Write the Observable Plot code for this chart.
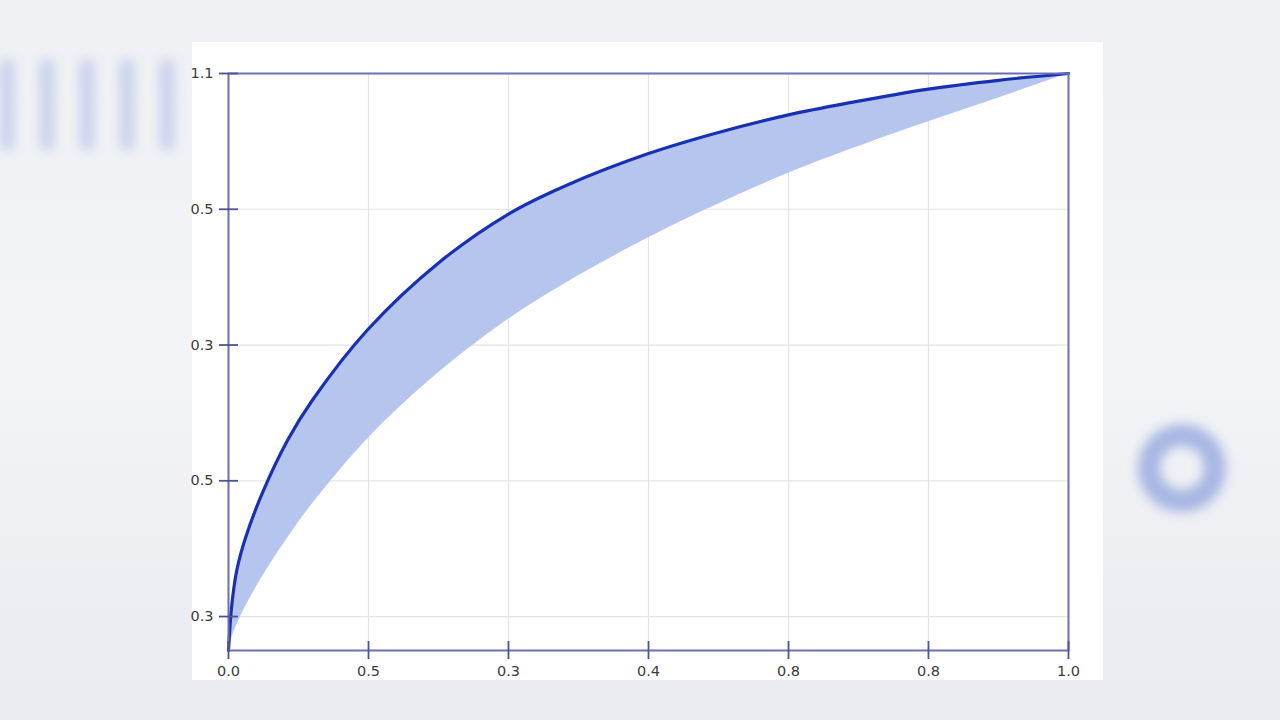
<!DOCTYPE html>
<html>
<head>
<meta charset="utf-8">
<script src="https://cdn.jsdelivr.net/npm/d3@7"></script>
<script src="https://cdn.jsdelivr.net/npm/@observablehq/plot@0.6"></script>
<style>
  html, body { margin: 0; padding: 0; width: 1280px; height: 720px; overflow: hidden; }
  body { background: linear-gradient(180deg, #eef0f4 0%, #f3f4f7 50%, #e9ebf0 100%); position: relative; font-family: "DejaVu Sans", sans-serif; }
  .deco { position: absolute; filter: blur(6px); }
  #panel { position: absolute; left: 192px; top: 42px; width: 911px; height: 638px; background: #ffffff; }
</style>
</head>
<body>
<div class="deco" style="left:0;top:60px;width:190px;height:90px;background:repeating-linear-gradient(90deg,#6f86d6 0 14px,transparent 14px 40px);opacity:0.3"></div>
<div class="deco" style="left:1138px;top:424px;width:88px;height:88px;border-radius:50%;border:22px solid #5f7ad0;box-sizing:border-box;opacity:0.5"></div>
<div id="panel"></div>
<script>
// Tick positions and their (as drawn) labels
const xTicks = [0, 0.1667, 0.3333, 0.5, 0.6667, 0.8333, 1];
const xTickLabels = ["0.0", "0.5", "0.3", "0.4", "0.8", "0.8", "1.0"];
const yTicks = [0.2, 0.4, 0.6, 0.8, 1.0];
const yTickLabels = ["0.3", "0.5", "0.3", "0.5", "1.1"];

// Curve samples
const xs    = [0, 0.004, 0.01, 0.02, 0.04, 0.07, 0.1, 0.1667, 0.25, 0.3333, 0.4, 0.5, 0.58, 0.6667, 0.74, 0.8333, 0.9167, 1];
const upper = [0.150, 0.218, 0.269, 0.315, 0.381, 0.459, 0.519, 0.624, 0.721, 0.793, 0.834, 0.882, 0.912, 0.939, 0.957, 0.977, 0.990, 1.0];
const lower = [0.150, 0.169, 0.188, 0.214, 0.258, 0.315, 0.366, 0.463, 0.559, 0.638, 0.690, 0.758, 0.806, 0.853, 0.888, 0.929, 0.964, 1.0];

const data = xs.map((x, i) => ({x, hi: upper[i], lo: lower[i]}));

const axisColor = "#6c70b2";
const textColor = "#3c3c3c";

const chart = Plot.plot({
  width: 911,
  height: 638,
  marginLeft: 36,
  marginRight: 35,
  marginTop: 31,
  marginBottom: 30,
  style: { fontFamily: "DejaVu Sans, sans-serif", fontSize: "14.5px", background: "white", overflow: "visible" },
  x: { domain: [0, 1] },
  y: { domain: [0.15, 1.0] },
  marks: [
    Plot.gridX(xTicks, { stroke: "#e4e4e8", strokeOpacity: 1, strokeWidth: 1.2 }),
    Plot.gridY(yTicks, { stroke: "#e4e4e8", strokeOpacity: 1, strokeWidth: 1.2 }),
    Plot.areaY(data, { x: "x", y1: "lo", y2: "hi", fill: "#b6c5ee", fillOpacity: 1, curve: "catmull-rom" }),
    Plot.line(data, { x: "x", y: "hi", stroke: "#1830b4", strokeWidth: 3.2, curve: "catmull-rom" }),
    Plot.frame({ stroke: axisColor, strokeWidth: 2 }),
    Plot.axisY({
      ticks: yTicks,
      tickFormat: (d, i) => yTickLabels[i],
      tickSize: 19, dx: 10, tickPadding: 6,
      stroke: "#4e5296", strokeWidth: 1.8, color: textColor, fill: textColor, label: null
    }),
    Plot.axisX({
      ticks: xTicks,
      tickFormat: (d, i) => xTickLabels[i],
      tickSize: 18, dy: -9, tickPadding: 6,
      stroke: "#4e5296", strokeWidth: 1.8, color: textColor, fill: textColor, label: null
    })
  ]
});
document.getElementById("panel").appendChild(chart);
</script>
</body>
</html>
